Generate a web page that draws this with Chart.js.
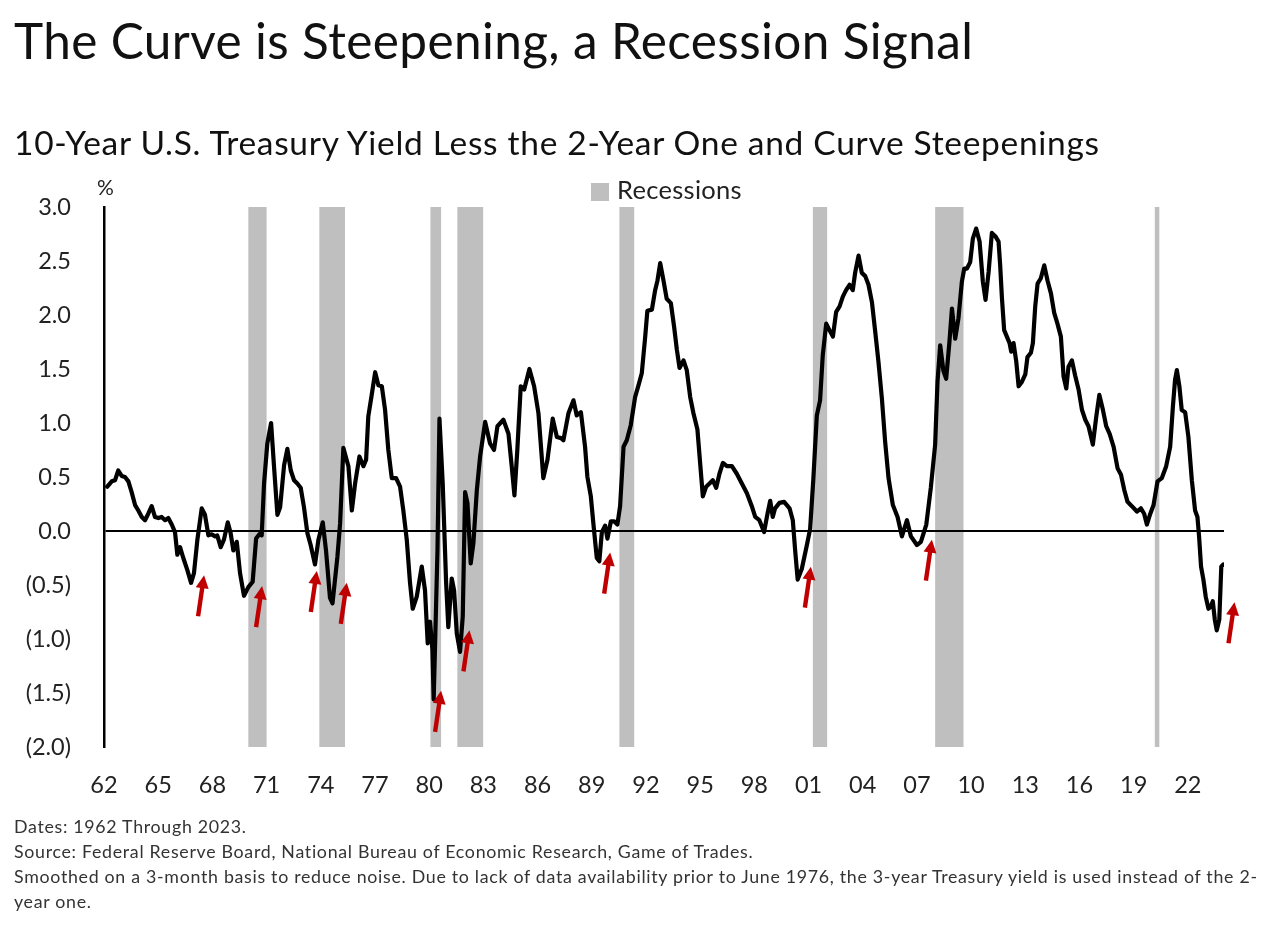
<!DOCTYPE html>
<html>
<head>
<meta charset="utf-8">
<script src="https://cdn.jsdelivr.net/npm/chart.js@4.4.0/dist/chart.umd.min.js"></script>
<style>
html,body{margin:0;padding:0;background:#fff;}
body{width:1280px;height:931px;position:relative;overflow:hidden;font-family:Lato,"Noto Sans",sans-serif;color:#111;}
#c{position:absolute;left:0;top:0;}
.t{position:absolute;white-space:nowrap;line-height:1;}
#title{left:14px;top:16px;font-size:49.5px;letter-spacing:0.38px;color:#111;}
#sub{left:14px;top:126px;font-size:33.5px;letter-spacing:0.7px;color:#111;}
#pct{left:97px;top:176px;font-size:21px;color:#222;}
#sw{position:absolute;left:591px;top:183px;width:18px;height:18px;background:#bfbfbf;}
#leg{left:617px;top:177px;font-size:25.5px;letter-spacing:0.3px;color:#222;}
#notes{left:14px;top:814px;font-size:17.8px;letter-spacing:0.7px;line-height:25.1px;color:#333;}
</style>
</head>
<body>
<canvas id="c" width="1280" height="931"></canvas>
<div class="t" id="title">The Curve is Steepening, a Recession Signal</div>
<div class="t" id="sub">10-Year U.S. Treasury Yield Less the 2-Year One and Curve Steepenings</div>
<div class="t" id="pct">%</div>
<div id="sw"></div>
<div class="t" id="leg">Recessions</div>
<div class="t" id="notes">Dates: 1962 Through 2023.<br>Source: Federal Reserve Board, National Bureau of Economic Research, Game of Trades.<br>Smoothed on a 3-month basis to reduce noise. Due to lack of data availability prior to June 1976, the 3-year Treasury yield is used instead of the 2-<br>year one.</div>
<script>
// decimal-year dates of the 10y-2y spread readings
const dates = [
1962.18,1962.43,1962.61,1962.79,1962.98,1963.16,1963.35,1963.53,1963.72,1963.90,
1964.09,1964.27,1964.45,1964.64,1964.82,1965.01,1965.19,1965.38,1965.56,1965.75,
1965.93,1966.06,1966.21,1966.39,1966.61,1966.82,1966.98,1967.17,1967.41,1967.59,
1967.78,1967.96,1968.15,1968.27,1968.46,1968.64,1968.85,1969.01,1969.16,1969.35,
1969.53,1969.75,1969.99,1970.23,1970.42,1970.60,1970.73,1970.86,1971.04,1971.25,
1971.41,1971.60,1971.75,1971.97,1972.15,1972.34,1972.52,1972.70,1972.89,1973.07,
1973.26,1973.44,1973.68,1973.87,1974.11,1974.29,1974.51,1974.65,1974.92,1975.07,
1975.25,1975.53,1975.72,1975.90,1976.14,1976.36,1976.51,1976.63,1976.82,1977.01,
1977.19,1977.38,1977.56,1977.74,1977.93,1978.17,1978.39,1978.57,1978.76,1978.94,
1979.09,1979.31,1979.59,1979.77,1979.92,1980.05,1980.18,1980.25,1980.46,1980.57,
1980.75,1980.94,1981.06,1981.25,1981.38,1981.53,1981.71,1981.86,1981.99,1982.12,
1982.30,1982.45,1982.64,1982.82,1983.10,1983.37,1983.59,1983.78,1984.11,1984.39,
1984.57,1984.72,1984.88,1985.07,1985.26,1985.55,1985.81,1986.05,1986.32,1986.55,
1986.84,1987.07,1987.30,1987.43,1987.71,1987.99,1988.17,1988.40,1988.63,1988.76,
1988.95,1989.09,1989.28,1989.42,1989.56,1989.74,1989.87,1990.06,1990.24,1990.42,
1990.57,1990.76,1990.94,1991.16,1991.40,1991.59,1991.77,1991.96,1992.08,1992.33,
1992.51,1992.64,1992.79,1992.97,1993.15,1993.38,1993.56,1993.71,1993.86,1994.08,
1994.26,1994.45,1994.63,1994.85,1995.00,1995.15,1995.33,1995.52,1995.70,1995.89,
1996.07,1996.26,1996.48,1996.76,1997.03,1997.31,1997.59,1997.86,1998.05,1998.28,
1998.54,1998.73,1998.88,1999.02,1999.15,1999.39,1999.65,1999.95,2000.13,2000.26,
2000.40,2000.63,2000.91,2001.09,2001.27,2001.46,2001.64,2001.79,2001.98,2002.16,
2002.35,2002.53,2002.72,2002.90,2003.08,2003.27,2003.45,2003.58,2003.77,2003.95,
2004.14,2004.32,2004.51,2004.69,2004.87,2005.06,2005.24,2005.43,2005.67,2005.93,
2006.17,2006.45,2006.67,2007.00,2007.22,2007.52,2007.77,2008.01,2008.14,2008.29,
2008.47,2008.62,2008.80,2008.94,2009.12,2009.30,2009.49,2009.62,2009.77,2009.95,
2010.10,2010.28,2010.47,2010.65,2010.80,2010.97,2011.15,2011.34,2011.52,2011.61,
2011.71,2011.83,2011.98,2012.13,2012.22,2012.35,2012.50,2012.63,2012.81,2013.00,
2013.12,2013.31,2013.42,2013.55,2013.68,2013.86,2014.05,2014.23,2014.42,2014.60,
2014.78,2014.97,2015.12,2015.27,2015.39,2015.58,2015.76,2015.95,2016.14,2016.32,
2016.50,2016.74,2016.93,2017.10,2017.30,2017.48,2017.67,2017.89,2018.11,2018.30,
2018.48,2018.66,2018.90,2019.18,2019.40,2019.58,2019.73,2019.92,2020.10,2020.32,
2020.56,2020.80,2021.02,2021.17,2021.29,2021.39,2021.53,2021.66,2021.85,2022.03,
2022.22,2022.40,2022.53,2022.62,2022.73,2022.86,2022.99,2023.14,2023.27,2023.38,
2023.49,2023.60,2023.74,2023.85,2023.96
];
// 10-year less 2-year yield, percentage points
const spread = [
0.41,0.46,0.47,0.56,0.51,0.50,0.46,0.36,0.24,0.19,
0.13,0.10,0.16,0.23,0.13,0.12,0.13,0.10,0.12,0.06,
-0.01,-0.22,-0.15,-0.25,-0.36,-0.48,-0.39,-0.08,0.21,0.15,
-0.04,-0.03,-0.05,-0.04,-0.15,-0.08,0.08,-0.02,-0.18,-0.10,
-0.39,-0.60,-0.52,-0.47,-0.07,-0.03,-0.04,0.44,0.81,1.00,
0.60,0.15,0.22,0.61,0.76,0.56,0.47,0.44,0.40,0.22,
-0.02,-0.13,-0.31,-0.08,0.08,-0.18,-0.62,-0.67,-0.24,0.07,
0.77,0.60,0.19,0.44,0.69,0.60,0.66,1.06,1.26,1.47,
1.35,1.34,1.12,0.75,0.49,0.49,0.41,0.19,-0.08,-0.48,
-0.72,-0.61,-0.33,-0.55,-1.04,-0.84,-1.10,-1.56,-0.18,1.04,
0.44,-0.48,-0.89,-0.44,-0.55,-0.95,-1.12,-0.79,0.36,0.26,
-0.30,-0.11,0.38,0.69,1.01,0.81,0.75,0.97,1.03,0.90,
0.60,0.33,0.75,1.34,1.31,1.50,1.34,1.09,0.49,0.66,
1.04,0.87,0.86,0.84,1.09,1.21,1.07,1.10,0.78,0.50,
0.32,0.07,-0.25,-0.28,-0.01,0.05,-0.07,0.09,0.09,0.06,
0.23,0.78,0.84,0.98,1.24,1.35,1.46,1.80,2.04,2.05,
2.23,2.32,2.48,2.32,2.15,2.11,1.89,1.68,1.51,1.58,
1.49,1.24,1.09,0.94,0.63,0.32,0.41,0.44,0.47,0.40,
0.53,0.63,0.60,0.60,0.53,0.44,0.35,0.23,0.13,0.10,
-0.01,0.16,0.28,0.13,0.21,0.26,0.27,0.21,0.10,-0.18,
-0.45,-0.35,-0.13,0.02,0.49,1.07,1.21,1.63,1.92,1.86,
1.80,2.03,2.08,2.17,2.23,2.28,2.23,2.39,2.55,2.39,
2.36,2.28,2.12,1.85,1.57,1.23,0.83,0.49,0.24,0.13,
-0.05,0.10,-0.05,-0.13,-0.10,0.06,0.40,0.80,1.38,1.72,
1.48,1.41,1.75,2.06,1.78,1.97,2.31,2.43,2.43,2.49,
2.71,2.80,2.68,2.31,2.14,2.40,2.76,2.73,2.68,2.46,
2.15,1.86,1.80,1.74,1.66,1.74,1.57,1.34,1.38,1.45,
1.61,1.65,1.74,2.08,2.29,2.34,2.46,2.32,2.20,2.02,
1.92,1.80,1.43,1.32,1.52,1.58,1.44,1.31,1.12,1.03,
0.97,0.80,1.06,1.26,1.12,0.97,0.90,0.78,0.58,0.52,
0.38,0.27,0.23,0.18,0.21,0.16,0.06,0.16,0.24,0.46,
0.49,0.60,0.78,1.15,1.40,1.49,1.34,1.12,1.10,0.87,
0.47,0.19,0.13,-0.05,-0.33,-0.45,-0.61,-0.72,-0.70,-0.65,
-0.82,-0.92,-0.82,-0.33,-0.31
];
// NBER recessions (decimal years)
const recessionStart = [1969.99,1973.92,1980.07,1981.56,1990.53,2001.24,2008.01,2020.17];
const recessionEnd   = [1971.00,1975.34,1980.66,1982.99,1991.35,2002.03,2009.58,2020.42];
// curve steepening arrows: tip position (date, spread)
const arrowDate  = [1967.54,1970.75,1973.78,1975.44,1980.66,1982.23,1990.02,2001.13,2007.83,2024.58];
const arrowValue = [-0.41,-0.51,-0.37,-0.48,-1.48,-0.92,-0.20,-0.33,-0.08,-0.66];
// axis ticks
const xTickYears = [1962,1965,1968,1971,1974,1977,1980,1983,1986,1989,1992,1995,1998,2001,2004,2007,2010,2013,2016,2019,2022];
const yTickValues = [-2,-1.5,-1,-0.5,0,0.5,1,1.5,2,2.5,3];

const FONT = 'Lato, "Noto Sans", sans-serif';

const recessionPlugin = {
  id:'recessions',
  beforeDraw(chart){
    const {ctx, chartArea:a, scales:{x}} = chart;
    ctx.save();
    ctx.fillStyle = '#bfbfbf';
    for (let i=0;i<recessionStart.length;i++){
      const x0 = x.getPixelForValue(recessionStart[i]);
      const x1 = x.getPixelForValue(recessionEnd[i]);
      ctx.fillRect(x0, a.top, x1-x0, a.bottom-a.top);
    }
    ctx.restore();
  }
};

const arrowPlugin = {
  id:'arrows',
  afterDraw(chart){
    const {ctx, scales:{x,y}} = chart;
    ctx.save();
    ctx.strokeStyle = '#c00000';
    ctx.fillStyle = '#c00000';
    for (let i=0;i<arrowDate.length;i++){
      const tx = x.getPixelForValue(arrowDate[i]);
      const ty = y.getPixelForValue(arrowValue[i]);
      const dx = 6, dy = -41; // direction tail->tip
      const len = Math.hypot(dx,dy), ux = dx/len, uy = dy/len;
      const sx = tx - dx, sy = ty - dy;
      const headL = 13, headW = 6.5;
      const bx = tx - ux*headL, by = ty - uy*headL;
      ctx.lineWidth = 4.4;
      ctx.lineCap = 'butt';
      ctx.beginPath(); ctx.moveTo(sx,sy); ctx.lineTo(bx+ux*1,by+uy*1); ctx.stroke();
      ctx.beginPath();
      ctx.moveTo(tx,ty);
      ctx.lineTo(bx - uy*headW, by + ux*headW);
      ctx.lineTo(bx + uy*headW, by - ux*headW);
      ctx.closePath(); ctx.fill();
    }
    ctx.restore();
  }
};

new Chart(document.getElementById('c'), {
  type:'line',
  data:{datasets:[{
    data: dates.map((d,i)=>({x:d, y:spread[i]})),
    borderColor:'#000', borderWidth:4.2, pointRadius:0, tension:0,
    borderJoinStyle:'round', borderCapStyle:'round', fill:false
  }]},
  options:{
    responsive:false, animation:false, events:[],
    layout:{padding:{top:207,right:56,left:0,bottom:0}},
    plugins:{legend:{display:false}, tooltip:{enabled:false}, title:{display:false}},
    scales:{
      x:{
        type:'linear', min:1962, max:2024,
        grid:{display:false, drawTicks:false}, border:{display:false},
        afterBuildTicks(s){ s.ticks = xTickYears.map(v=>({value:v})); },
        afterFit(s){ s.height = 184; },
        ticks:{autoSkip:false, maxRotation:0, padding:24, color:'#222',
          font:{family:FONT, size:23.5},
          callback:v=>String(Math.round(v)%100).padStart(2,'0')}
      },
      y:{
        min:-2, max:3,
        afterBuildTicks(s){ s.ticks = yTickValues.map(v=>({value:v})); },
        afterFit(s){ s.width = 104; },
        grid:{drawTicks:false, lineWidth:2,
          color:c=> (c.tick && c.tick.value===0) ? '#000' : 'rgba(0,0,0,0)'},
        border:{display:true, color:'#000', width:2.5},
        ticks:{padding:33, color:'#222', font:{family:FONT, size:23.5},
          callback:v=> v<0 ? '('+Math.abs(v).toFixed(1)+')' : v.toFixed(1)}
      }
    }
  },
  plugins:[recessionPlugin, arrowPlugin]
});
</script>
</body>
</html>
